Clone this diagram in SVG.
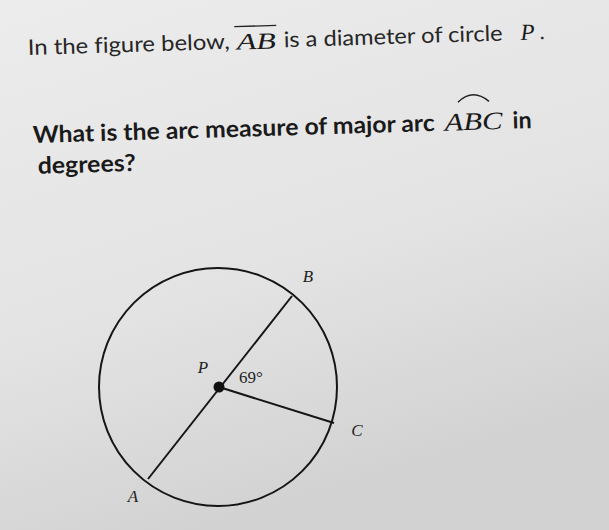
<svg xmlns="http://www.w3.org/2000/svg" width="609" height="530" viewBox="0 0 609 530">
<defs>
<linearGradient id="bg" x1="0" y1="0" x2="0.35" y2="1">
<stop offset="0" stop-color="#ececec"/>
<stop offset="0.6" stop-color="#e3e3e3"/>
<stop offset="1" stop-color="#d2d2d2"/>
</linearGradient>
</defs>
<style>
.q{font-family:Lato,"Open Sans",sans-serif;fill:#262626;font-variant-ligatures:none}
.qb{font-family:Lato,"Open Sans",sans-serif;font-weight:bold;fill:#1a1a1a;font-variant-ligatures:none}
.m{font-family:"Liberation Serif",serif;font-style:italic;fill:#1a1a1a}
.lbl{font-family:"Liberation Serif",serif;font-style:italic;font-size:17px;fill:#222}
.deg{font-family:"Liberation Serif",serif;font-size:17px;fill:#222}
.ln{stroke:#151515;stroke-width:2;fill:none}
</style>
<rect width="609" height="530" fill="url(#bg)"/>
<g id="question" transform="rotate(-1.75 28 55)">
<text class="q" x="28" y="55" font-size="21.5" textLength="202" lengthAdjust="spacingAndGlyphs">In the figure below,</text>
<text class="m" x="237" y="56" font-size="23" textLength="39" lengthAdjust="spacingAndGlyphs">AB</text>
<line x1="235" y1="33" x2="277" y2="33" stroke="#222" stroke-width="1.3"/>
<text class="q" x="284" y="55" font-size="21.5" textLength="219" lengthAdjust="spacingAndGlyphs">is a diameter of circle</text>
<text class="m" x="521" y="55" font-size="23">P</text>
<text class="q" x="540" y="55" font-size="21.5">.</text>
</g>
<g id="prompt" transform="rotate(-1.72 33 143)">
<text class="qb" x="33" y="143" font-size="23.5" textLength="402" lengthAdjust="spacingAndGlyphs">What is the arc measure of major arc</text>
<text class="m" x="445" y="143" font-size="25" textLength="58" lengthAdjust="spacingAndGlyphs">ABC</text>
<path d="M459 115 Q474 101 490 115" stroke="#222" stroke-width="1.6" fill="none"/>
<text class="qb" x="513" y="143" font-size="23.5" textLength="19" lengthAdjust="spacingAndGlyphs">in</text>
<text class="qb" x="37" y="174" font-size="23.5" textLength="98" lengthAdjust="spacingAndGlyphs">degrees?</text>
</g>
<g id="connectors">
<line class="ln" x1="148" y1="479" x2="292" y2="296"/>
<line class="ln" x1="219" y1="387" x2="334" y2="423"/>
</g>
<g id="circleP">
<circle class="ln" cx="218" cy="387" r="119"/>
</g>
<g id="centerP">
<circle cx="219" cy="387" r="5.5" fill="#111"/>
<text class="lbl" x="203" y="373" text-anchor="middle">P</text>
</g>
<g id="angle">
<text class="deg" x="251" y="383" text-anchor="middle">69°</text>
</g>
<g id="pointB"><text class="lbl" x="308" y="282" text-anchor="middle">B</text></g>
<g id="pointC"><text class="lbl" x="357" y="436" text-anchor="middle">C</text></g>
<g id="pointA"><text class="lbl" x="133" y="502" text-anchor="middle">A</text></g>
</svg>
